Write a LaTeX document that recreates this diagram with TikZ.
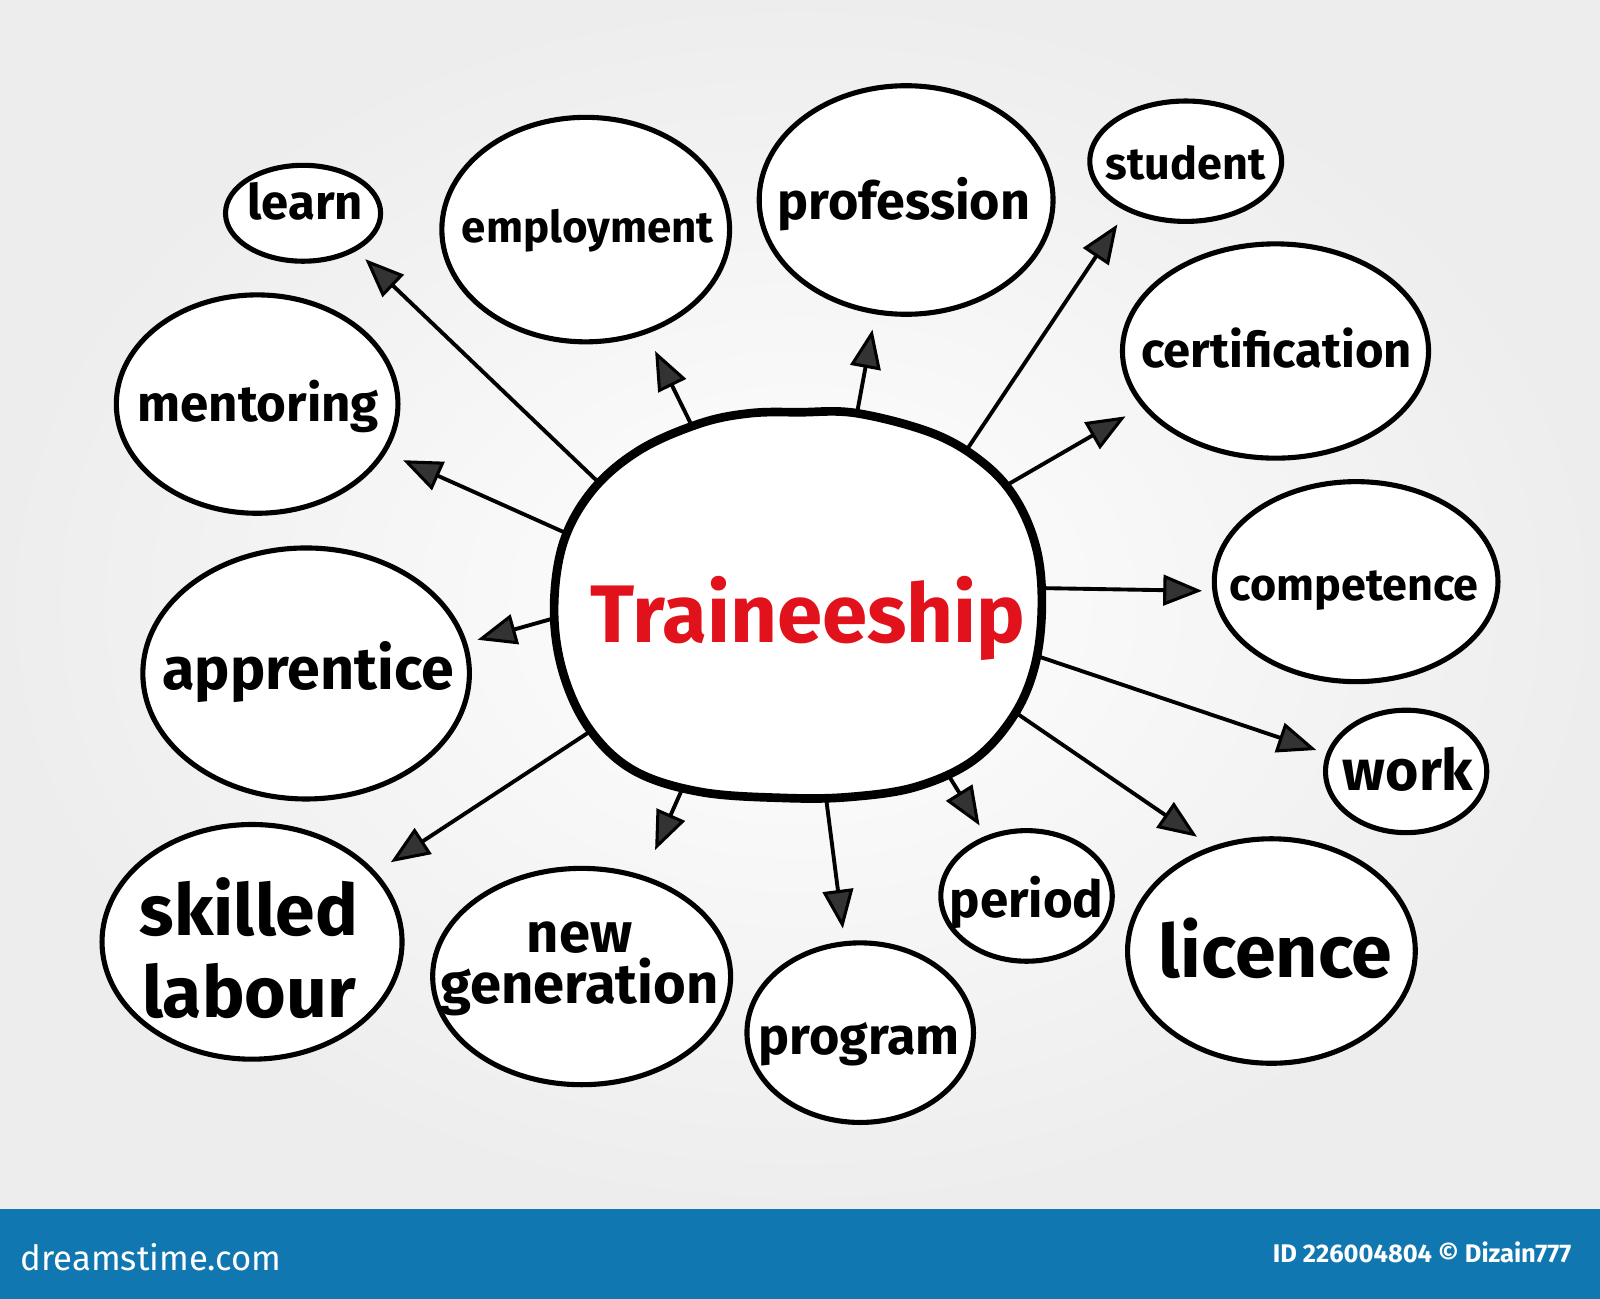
\documentclass[tikz,border=0pt]{standalone}
\usepackage{fontspec}
\setmainfont{Fira Sans}
\usetikzlibrary{shapes.geometric,arrows.meta}
\definecolor{barblue}{RGB}{17,119,176}
\definecolor{tred}{RGB}{226,18,28}
\newcommand\fsz[2]{\fontsize{#1}{#2}\selectfont\bfseries}
\begin{document}
\begin{tikzpicture}[x=1pt,y=-1pt,
  bub/.style={ellipse,draw,line width=5pt,fill=white,inner sep=0pt},
  lab/.style={inner sep=0pt,align=center,text=black,anchor=base},
  arr/.style={line width=3.8pt,-{Triangle[length=38pt,width=30pt,fill=black!80,line width=3pt]}},
]
\useasboundingbox (0,0) rectangle (1568,1273);
\shade[inner color=white,outer color=black!7] (0,0) rectangle (1568,1185);
\fill[barblue] (0,1185) rectangle (1568,1273);

% outer bubbles
\node[bub,minimum width=152pt,minimum height=94pt]  (learn) at (297,209) {};
\node[bub,minimum width=282pt,minimum height=220pt] (employment) at (574,225) {};
\node[bub,minimum width=288pt,minimum height=224pt] (profession) at (888,196) {};
\node[bub,minimum width=188pt,minimum height=118pt] (student) at (1162,158) {};
\node[bub,minimum width=300pt,minimum height=210pt] (certification) at (1250,344) {};
\node[bub,minimum width=276pt,minimum height=214pt] (mentoring) at (252,396) {};
\node[bub,minimum width=278pt,minimum height=196pt] (competence) at (1329,570) {};
\node[bub,minimum width=320pt,minimum height=246pt] (apprentice) at (300,660) {};
\node[bub,minimum width=158pt,minimum height=120pt] (work) at (1378,756) {};
\node[bub,minimum width=294pt,minimum height=230pt] (skilled) at (247,923) {};
\node[bub,minimum width=292pt,minimum height=212pt] (newgen) at (570,957) {};
\node[bub,minimum width=222pt,minimum height=176pt] (program) at (843,1012) {};
\node[bub,minimum width=168pt,minimum height=128pt] (period) at (1006,878) {};
\node[bub,minimum width=282pt,minimum height=220pt] (licence) at (1246,932) {};

% labels
\node[lab,font=\fsz{48}{50}] (learn-t) at (299,215) {learn};
\node[lab,font=\fsz{43}{45}] (employment-t) at (576,238) {employment};
\node[lab,font=\fsz{51}{53}] (profession-t) at (886,215) {profession};
\node[lab,font=\fsz{44}{46}] (student-t) at (1162,176) {student};
\node[lab,font=\fsz{48}{50}] (certification-t) at (1251,360) {certification};
\node[lab,font=\fsz{50}{52}] (mentoring-t) at (253,413) {mentoring};
\node[lab,font=\fsz{44}{46}] (competence-t) at (1327,588) {competence};
\node[lab,font=\fsz{58}{60}] (apprentice-t) at (302,676) {apprentice};
\node[lab,font=\fsz{56}{58}] (work-t) at (1380,775) {work};
\node[lab,font=\fsz{70}{80}] (skilled-t) at (244,997) {skilled\\labour};
\node[lab,font=\fsz{55}{50}] (newgen-t) at (568,983) {new\\generation};
\node[lab,font=\fsz{51}{53}] (program-t) at (842,1033) {program};
\node[lab,font=\fsz{50}{52}] (period-t) at (1006,899) {period};
\node[lab,font=\fsz{72}{74}] (licence-t) at (1250,958) {licence};

% centre (invisible anchor shape)
\node[ellipse,minimum width=478pt,minimum height=376pt,inner sep=0pt] (c) at (783,593) {};

% arrow tips
\coordinate (learn-tip) at (358,254);
\coordinate (employment-tip) at (642,344);
\coordinate (profession-tip) at (855,323);
\coordinate (student-tip) at (1095,220);
\coordinate (certification-tip) at (1103,408);
\coordinate (mentoring-tip) at (395,451);
\coordinate (competence-tip) at (1178,579);
\coordinate (apprentice-tip) at (468,627);
\coordinate (work-tip) at (1290,735);
\coordinate (licence-tip) at (1173,820);
\coordinate (period-tip) at (960,809);
\coordinate (program-tip) at (826,910);
\coordinate (newgen-tip) at (642,833);
\coordinate (skilled-tip) at (383,845);

\draw[arr] (c.149) -- (learn-tip);
\draw[arr] (c.121) -- (employment-tip);
\draw[arr] (c.73) -- (profession-tip);
\draw[arr] (c.42) -- (student-tip);
\draw[arr] (c.30) -- (certification-tip);
\draw[arr] (c.163) -- (mentoring-tip);
\draw[arr] (c.4) -- (competence-tip);
\draw[arr] (c.183) -- (apprentice-tip);
\draw[arr] (c.348) -- (work-tip);
\draw[arr] (c.334) -- (licence-tip);
\draw[arr] (c.312) -- (period-tip);
\draw[arr] (c.278) -- (program-tip);
\draw[arr] (c.237) -- (newgen-tip);
\draw[arr] (c.211) -- (skilled-tip);

% hand-drawn centre outline
\draw[line width=8.5pt,fill=white,line join=round] plot[smooth cycle,tension=0.6] coordinates {
 (784,404) (840,405) (915,425) (964,454) (996,490) (1016,539) (1021,595)
 (1014,653) (993,702) (954,745) (898,771) (833,781) (768,782) (686,776)
 (621,755) (578,715) (552,660) (543,598) (552,532) (581,480) (627,441)
 (686,415) (735,405)};
\node[lab,text=tred,font=\fsz{80}{80}] (title) at (792,630) {Traineeship};

% footer
\node[inner sep=0pt,anchor=base west,text=white,font=\fontsize{34}{34}\selectfont] (brand) at (20,1245) {dreamstime.com};
\node[inner sep=0pt,anchor=base east,text=white,font=\fsz{25}{25}] (imgid) at (1540,1237) {ID 226004804 © Dizain777};
\end{tikzpicture}
\end{document}
